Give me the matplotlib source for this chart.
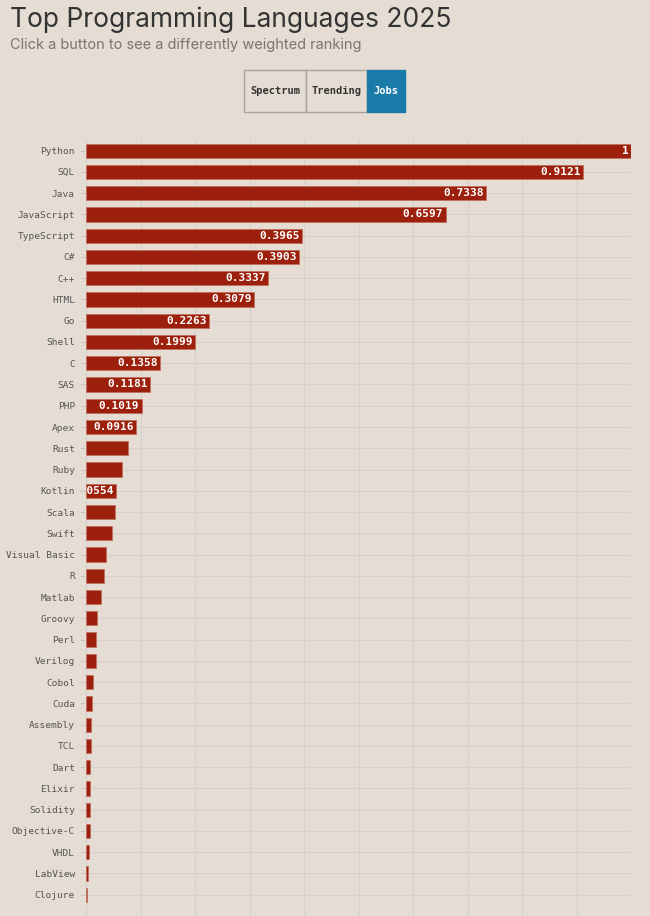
import matplotlib
matplotlib.use("Agg")
from matplotlib import pyplot as plt
from matplotlib.patches import FancyBboxPatch, Rectangle

languages = ["Python", "SQL", "Java", "JavaScript", "TypeScript", "C#", "C++", "HTML", "Go", "Shell",
             "C", "SAS", "PHP", "Apex", "Rust", "Ruby", "Kotlin", "Scala", "Swift", "Visual Basic",
             "R", "Matlab", "Groovy", "Perl", "Verilog", "Cobol", "Cuda", "Assembly", "TCL", "Dart",
             "Elixir", "Solidity", "Objective-C", "VHDL", "LabView", "Clojure"]
scores = [1, 0.9121, 0.7338, 0.6597, 0.3965, 0.3903, 0.3337, 0.3079, 0.2263, 0.1999,
          0.1358, 0.1181, 0.1019, 0.0916, 0.077, 0.066, 0.0554, 0.053, 0.048, 0.037,
          0.033, 0.027, 0.020, 0.019, 0.018, 0.013, 0.011, 0.0095, 0.0085, 0.008,
          0.0075, 0.0075, 0.007, 0.0055, 0.0045, 0.002]
labelled = ["Python", "SQL", "Java", "JavaScript", "TypeScript", "C#", "C++", "HTML", "Go", "Shell",
            "C", "SAS", "PHP", "Apex", "Kotlin"]
buttons = ["Spectrum", "Trending", "Jobs"]

bg = "#e5ddd3"
bar_color = "#9c200b"

fig = plt.figure(figsize=(6.5, 9.16), dpi=100, facecolor=bg)
W, H = 650, 916

fig.text(10 / W, 1 - 20 / H, "Top Programming Languages 2025", fontsize=19, family="Inter",
         color="#333333", va="center")
fig.text(10 / W, 1 - 45 / H, "Click a button to see a differently weighted ranking", fontsize=10.5,
         family="Inter", color="#7a7570", va="center")

# buttons
bx = [244, 306, 367, 405]
for i, name in enumerate(buttons):
    active = name == "Jobs"
    r = Rectangle((bx[i] / W, 1 - 112 / H), (bx[i + 1] - bx[i]) / W, 42 / H, transform=fig.transFigure,
                  facecolor="#1a7aa8" if active else bg, edgecolor="#1a7aa8" if active else "#aaa39b",
                  lw=1)
    fig.patches.append(r)
    fig.text((bx[i] + bx[i + 1]) / 2 / W, 1 - 91 / H, name, fontsize=7.5, family="DejaVu Sans Mono",
             weight="bold", color="white" if active else "#333333", ha="center", va="center")

ax = fig.add_axes([86 / W, 0, 545 / W, 776 / H])
ax.set_facecolor(bg)
y = list(range(len(languages)))
ax.barh(y, scores, height=0.67, color=bar_color, edgecolor="#c0705f", linewidth=0.6, zorder=2)
ax.set_xlim(0, 1)
ax.set_ylim(len(languages) - 0.5 + 0.5, -0.5)
ax.set_xticks([i / 10 for i in range(11)])
ax.set_xticklabels([])
ax.tick_params(axis="x", length=0)
ax.set_yticks(y)
ax.set_yticklabels(languages, family="DejaVu Sans Mono", fontsize=6.8, color="#555555")
ax.tick_params(axis="y", length=4, color="#cfc8c0", pad=4)
ax.grid(True, color="#d5d0d0", lw=0.8, zorder=0)
for s in ax.spines.values():
    s.set_visible(False)

for i, (lang, v) in enumerate(zip(languages, scores)):
    if lang in labelled:
        txt = "1" if v == 1 else f"{v:.4f}"
        ax.text(v - 0.004, i, txt, ha="right", va="center", color="white", fontsize=8,
                family="DejaVu Sans Mono", weight="bold", clip_on=True, zorder=3)

fig.savefig("out.png", dpi=100, facecolor=bg)
